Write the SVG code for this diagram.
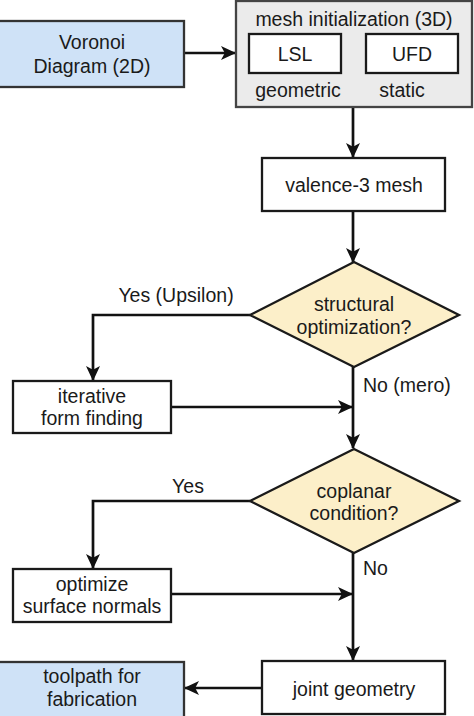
<svg xmlns="http://www.w3.org/2000/svg" width="474" height="716" viewBox="0 0 474 716">
<defs>
<style>
text{font-family:"Liberation Sans",Arial,sans-serif;font-size:19.5px;fill:#1a1a1a;text-anchor:middle}
.box{fill:#fff;stroke:#1a1a1a;stroke-width:2.3}
.blue{fill:#cfe2f7;stroke:#333;stroke-width:2.3}
.gray{fill:#ebebeb;stroke:#444;stroke-width:2.3}
.dia{fill:#fcefc9;stroke:#1a1a1a;stroke-width:2.3}
.edge{fill:none;stroke:#111;stroke-width:2.7;marker-end:url(#arr)}
.lbl{text-anchor:start}
</style>
<marker id="arr" markerUnits="userSpaceOnUse" markerWidth="15" markerHeight="15" viewBox="0 0 15 15" refX="14" refY="7.5" orient="auto">
<path d="M0,0.5 L15,7.5 L0,14.5 L3.8,7.5 z" fill="#111"/>
</marker>
</defs>
<g id="edges">
<path class="edge" d="M184,53 L235,53"/>
<path class="edge" d="M353,107 L353,157"/>
<path class="edge" d="M353,211 L353,262"/>
<path class="edge" d="M250,315 L93,315 L93,380"/>
<path class="edge" d="M171,407 L352,407"/>
<path class="edge" d="M353,367 L353,448"/>
<path class="edge" d="M250,501 L93,501 L93,568"/>
<path class="edge" d="M171,594 L352,594"/>
<path class="edge" d="M353,553 L353,660"/>
<path class="edge" d="M262,688 L185,688"/>
<text x="176" y="302">Yes (Upsilon)</text>
<text class="lbl" x="363" y="392">No (mero)</text>
<text x="188" y="493">Yes</text>
<text class="lbl" x="363" y="575">No</text>
</g>
<g id="voronoi">
<rect class="blue" x="-2" y="21" width="186" height="66"/>
<text x="92" y="49">Voronoi</text>
<text x="92" y="73">Diagram (2D)</text>
</g>
<g id="meshinit">
<rect class="gray" x="236" y="1" width="236" height="106"/>
<text x="354" y="26">mesh initialization (3D)</text>
<text x="298" y="97">geometric</text>
<text x="402" y="97">static</text>
</g>
<g id="lsl">
<rect class="box" x="249" y="34" width="92" height="39"/>
<text x="295" y="61">LSL</text>
</g>
<g id="ufd">
<rect class="box" x="366" y="34" width="92" height="39"/>
<text x="412" y="61">UFD</text>
</g>
<g id="valence">
<rect class="box" x="262" y="158" width="183" height="53"/>
<text x="354" y="192">valence-3 mesh</text>
</g>
<g id="structural">
<polygon class="dia" points="354,262 459,315 354,367 250,315"/>
<text x="354" y="311">structural</text>
<text x="354" y="334">optimization?</text>
</g>
<g id="iterative">
<rect class="box" x="13" y="381" width="158" height="52"/>
<text x="92" y="403">iterative</text>
<text x="92" y="425">form finding</text>
</g>
<g id="coplanar">
<polygon class="dia" points="354,449 459,501 354,553 250,501"/>
<text x="354" y="498">coplanar</text>
<text x="354" y="520">condition?</text>
</g>
<g id="optimize">
<rect class="box" x="13" y="569" width="158" height="53"/>
<text x="92" y="591">optimize</text>
<text x="92" y="613">surface normals</text>
</g>
<g id="joint">
<rect class="box" x="262" y="661" width="183" height="53"/>
<text x="354" y="696">joint geometry</text>
</g>
<g id="toolpath">
<rect class="blue" x="-2" y="662" width="186" height="56"/>
<text x="92" y="683">toolpath for</text>
<text x="92" y="706">fabrication</text>
</g>
</svg>
